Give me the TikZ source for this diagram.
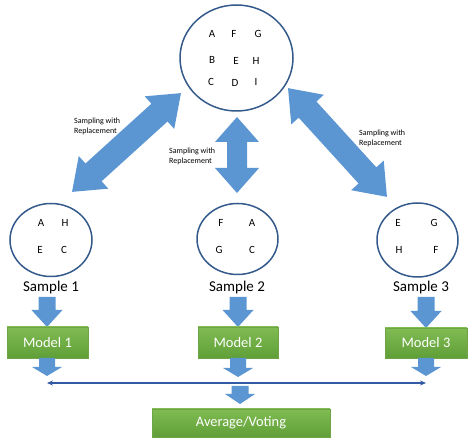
\documentclass[tikz,border=0pt]{standalone}
\usepackage{fontspec}
\setmainfont{Carlito}
\usetikzlibrary{arrows.meta,shapes.geometric}
\definecolor{arrowblue}{RGB}{91,150,210}
\definecolor{ringblue}{RGB}{52,90,140}
\definecolor{lineblue}{RGB}{50,90,165}
\definecolor{greentop}{RGB}{128,188,82}
\definecolor{greenbot}{RGB}{96,158,56}
\definecolor{greenedge}{RGB}{110,165,70}
\newcommand\bkdbl[7]{\begin{scope}[shift={(#1,#2)},rotate=#3]
\fill[arrowblue] (-#4,0) -- ({-#4+#5},#6) -- ({-#4+#5},#7) -- ({#4-#5},#7) -- ({#4-#5},#6) -- (#4,0) -- ({#4-#5},-#6) -- ({#4-#5},-#7) -- ({-#4+#5},-#7) -- ({-#4+#5},-#6) -- cycle;
\end{scope}}
\newcommand\bkdown[6]{\fill[arrowblue] ({#1-#6},#2) -- ({#1+#6},#2) -- ({#1+#6},{#3-#4}) -- ({#1+#5},{#3-#4}) -- (#1,#3) -- ({#1-#5},{#3-#4}) -- ({#1-#6},{#3-#4}) -- cycle;}
\begin{document}
\begin{tikzpicture}[x=1pt,y=-1pt,
  ring/.style={ellipse,draw=ringblue,line width=1.5pt,inner sep=0pt},
  letter/.style={font=\fontsize{11}{11}\selectfont,inner sep=0pt},
  samplelabel/.style={font=\fontsize{15}{15}\selectfont,inner sep=0pt},
  modelbox/.style={rectangle,draw=greenedge,line width=0.6pt,top color=greentop,bottom color=greenbot,text=white,font=\fontsize{14.5}{14.5}\selectfont,inner sep=0pt},
  note/.style={font=\fontsize{8}{10}\selectfont,align=left,anchor=west,inner sep=0pt}]
\useasboundingbox (0,0) rectangle (474,443);
% top circle
\node[ring,minimum width=113pt,minimum height=106pt] (top) at (236.5,58) {};
\node[letter] (tA) at (212,34) {A};
\node[letter] (tF) at (234,34) {F};
\node[letter] (tG) at (258,34) {G};
\node[letter] (tB) at (212,60) {B};
\node[letter] (tE) at (236,61) {E};
\node[letter] (tH) at (256,61) {H};
\node[letter] (tC) at (211,82) {C};
\node[letter] (tD) at (235,83) {D};
\node[letter] (tI) at (256,82) {I};
% sample circles
\node[ring,minimum width=82pt,minimum height=73pt] (s1) at (51,240) {};
\node[letter] at (41,223) {A};
\node[letter] at (65,223) {H};
\node[letter] at (40,250) {E};
\node[letter] at (64,250) {C};
\node[ring,minimum width=81pt,minimum height=71pt] (s2) at (237.5,239) {};
\node[letter] at (221,223) {F};
\node[letter] at (252,223) {A};
\node[letter] at (219,250) {G};
\node[letter] at (252,250) {C};
\node[ring,minimum width=81pt,minimum height=74pt] (s3) at (417.5,240) {};
\node[letter] at (398,223) {E};
\node[letter] at (434,223) {G};
\node[letter] at (399,250) {H};
\node[letter] at (436,250) {F};
% sample labels
\node[samplelabel] (l1) at (51,288) {Sample 1};
\node[samplelabel] (l2) at (237,288) {Sample 2};
\node[samplelabel] (l3) at (421,288) {Sample 3};
% big double arrows
\bkdbl{126.5}{142.5}{42.2}{73.5}{29}{22}{12}
\bkdbl{237}{155}{90}{38}{25}{22}{10}
\bkdbl{337.5}{142.5}{-47.7}{73.5}{29}{22}{12}
\node[note] (n1) at (74,126) {Sampling with\\Replacement};
\node[note] (n2) at (169,156) {Sampling with\\Replacement};
\node[note] (n3) at (359,138) {Sampling with\\Replacement};
% down arrows sample -> model
\bkdown{47}{297}{327}{17}{15.5}{8.5}
\bkdown{238}{297}{327}{17}{15.5}{8.5}
\bkdown{426}{297}{328}{17}{15.5}{8.5}
% model boxes
\node[modelbox,minimum width=81pt,minimum height=31pt] (m1) at (47.5,342.5) {Model 1};
\node[modelbox,minimum width=80pt,minimum height=31pt] (m2) at (238,342.5) {Model 2};
\node[modelbox,minimum width=82pt,minimum height=30pt] (m3) at (426,343) {Model 3};
% down arrows model -> line
\bkdown{47}{358}{376}{9}{15}{8}
\bkdown{238}{358}{377}{9}{15}{8}
\bkdown{426}{358}{376}{9}{15}{8}
% horizontal double arrow
\coordinate (hl) at (47,383);
\coordinate (hr) at (426,383);
\draw[lineblue,line width=1.3pt,{Stealth[length=6pt,width=5pt]}-{Stealth[length=6pt,width=5pt]}] (hl) -- (hr);
% arrow to average
\bkdown{240}{386}{404}{10}{15}{8.5}
\node[modelbox,minimum width=178pt,minimum height=28pt,font=\fontsize{14.4}{14.4}\selectfont] (avg) at (241,423) {Average/Voting};
\end{tikzpicture}
\end{document}
